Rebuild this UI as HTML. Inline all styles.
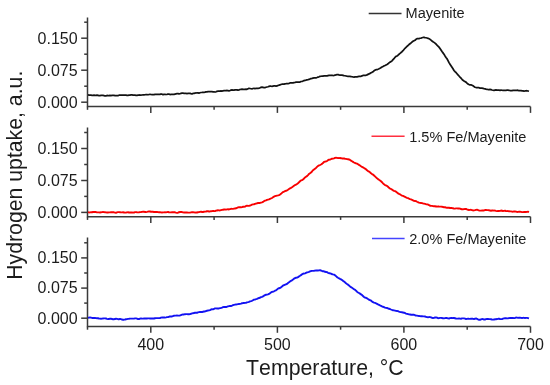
<!DOCTYPE html>
<html><head><meta charset="utf-8"><title>Hydrogen uptake vs temperature</title>
<style>
html,body{margin:0;padding:0;background:#fff;}
body{width:550px;height:385px;overflow:hidden;}
svg{display:block;font-kerning:none;font-family:"Liberation Sans",Arial,sans-serif;fill:#1c1c1c;}
</style></head><body>
<svg width="550" height="385" viewBox="0 0 550 385">
<rect width="550" height="385" fill="#fff"/>
<path d="M87.5,17.5 V106.6 H530.5" fill="none" stroke="#3a3a3a" stroke-width="1.5"/>
<line x1="81.2" y1="102.2" x2="87.5" y2="102.2" stroke="#3a3a3a" stroke-width="1.5"/>
<text x="77.6" y="107.5" text-anchor="end" font-size="16">0.000</text>
<line x1="81.2" y1="70.2" x2="87.5" y2="70.2" stroke="#3a3a3a" stroke-width="1.5"/>
<text x="77.6" y="75.5" text-anchor="end" font-size="16">0.075</text>
<line x1="81.2" y1="38.2" x2="87.5" y2="38.2" stroke="#3a3a3a" stroke-width="1.5"/>
<text x="77.6" y="43.5" text-anchor="end" font-size="16">0.150</text>
<line x1="84.2" y1="86.2" x2="87.5" y2="86.2" stroke="#3a3a3a" stroke-width="1.5"/>
<line x1="84.2" y1="54.2" x2="87.5" y2="54.2" stroke="#3a3a3a" stroke-width="1.5"/>
<line x1="84.2" y1="22.2" x2="87.5" y2="22.2" stroke="#3a3a3a" stroke-width="1.5"/>
<line x1="87.5" y1="106.6" x2="87.5" y2="109.8" stroke="#3a3a3a" stroke-width="1.5"/>
<line x1="150.8" y1="106.6" x2="150.8" y2="112.9" stroke="#3a3a3a" stroke-width="1.5"/>
<line x1="214.1" y1="106.6" x2="214.1" y2="109.8" stroke="#3a3a3a" stroke-width="1.5"/>
<line x1="277.4" y1="106.6" x2="277.4" y2="112.9" stroke="#3a3a3a" stroke-width="1.5"/>
<line x1="340.6" y1="106.6" x2="340.6" y2="109.8" stroke="#3a3a3a" stroke-width="1.5"/>
<line x1="403.9" y1="106.6" x2="403.9" y2="112.9" stroke="#3a3a3a" stroke-width="1.5"/>
<line x1="467.2" y1="106.6" x2="467.2" y2="109.8" stroke="#3a3a3a" stroke-width="1.5"/>
<line x1="530.5" y1="106.6" x2="530.5" y2="112.9" stroke="#3a3a3a" stroke-width="1.5"/>
<line x1="368.7" y1="13.5" x2="401.5" y2="13.5" stroke="#333" stroke-width="1.4"/>
<text x="405.6" y="18.1" font-size="14.55">Mayenite</text>
<path d="M88.0,94.97 L89.0,95.02 L90.0,95.19 L91.0,95.23 L92.0,95.35 L93.0,95.29 L94.0,95.17 L95.0,95.36 L96.0,95.35 L97.0,95.17 L98.0,95.40 L99.0,95.64 L100.0,95.53 L101.0,95.40 L102.0,95.45 L103.0,95.39 L104.0,95.59 L105.0,95.96 L106.0,95.86 L107.0,95.47 L108.0,95.55 L109.0,95.60 L110.0,95.39 L111.0,95.52 L112.0,95.39 L113.0,95.39 L114.0,95.37 L115.0,95.54 L116.0,95.61 L117.0,95.61 L118.0,95.55 L119.0,95.22 L120.0,95.19 L121.0,95.21 L122.0,95.21 L123.0,95.15 L124.0,95.22 L125.0,95.23 L126.0,95.13 L127.0,95.34 L128.0,95.34 L129.0,95.21 L130.0,95.07 L131.0,94.98 L132.0,94.91 L133.0,95.05 L134.0,95.16 L135.0,95.12 L136.0,95.27 L137.0,95.47 L138.0,95.17 L139.0,94.99 L140.0,95.01 L141.0,95.07 L142.0,95.00 L143.0,94.91 L144.0,94.95 L145.0,94.76 L146.0,94.58 L147.0,94.60 L148.0,94.75 L149.0,94.49 L150.0,94.26 L151.0,94.50 L152.0,94.67 L153.0,94.73 L154.0,94.55 L155.0,94.32 L156.0,94.26 L157.0,94.40 L158.0,94.39 L159.0,94.41 L160.0,94.35 L161.0,94.00 L162.0,94.20 L163.0,94.62 L164.0,94.39 L165.0,94.30 L166.0,94.51 L167.0,94.33 L168.0,94.03 L169.0,94.20 L170.0,94.54 L171.0,94.46 L172.0,94.44 L173.0,94.36 L174.0,94.34 L175.0,94.09 L176.0,93.88 L177.0,93.70 L178.0,93.69 L179.0,93.92 L180.0,93.74 L181.0,93.30 L182.0,93.07 L183.0,93.17 L184.0,93.27 L185.0,93.30 L186.0,93.39 L187.0,93.53 L188.0,93.45 L189.0,93.43 L190.0,93.32 L191.0,93.64 L192.0,93.90 L193.0,93.47 L194.0,93.29 L195.0,93.06 L196.0,92.99 L197.0,92.79 L198.0,92.80 L199.0,93.05 L200.0,92.75 L201.0,92.50 L202.0,92.48 L203.0,92.40 L204.0,92.42 L205.0,92.20 L206.0,91.87 L207.0,91.77 L208.0,91.66 L209.0,91.62 L210.0,91.54 L211.0,91.56 L212.0,91.67 L213.0,91.77 L214.0,91.82 L215.0,92.01 L216.0,91.79 L217.0,91.31 L218.0,91.18 L219.0,91.23 L220.0,91.09 L221.0,90.95 L222.0,91.05 L223.0,90.77 L224.0,90.66 L225.0,90.62 L226.0,90.52 L227.0,90.45 L228.0,90.72 L229.0,90.89 L230.0,90.54 L231.0,90.10 L232.0,89.95 L233.0,90.05 L234.0,90.05 L235.0,89.84 L236.0,89.80 L237.0,89.87 L238.0,90.19 L239.0,89.92 L240.0,89.50 L241.0,89.30 L242.0,89.20 L243.0,89.39 L244.0,89.40 L245.0,89.27 L246.0,89.22 L247.0,89.27 L248.0,88.78 L249.0,88.34 L250.0,88.51 L251.0,88.75 L252.0,88.79 L253.0,88.50 L254.0,88.37 L255.0,88.52 L256.0,88.46 L257.0,88.39 L258.0,88.29 L259.0,88.07 L260.0,87.80 L261.0,87.35 L262.0,87.11 L263.0,87.30 L264.0,87.54 L265.0,87.54 L266.0,87.26 L267.0,86.98 L268.0,86.75 L269.0,86.42 L270.0,86.13 L271.0,86.24 L272.0,86.28 L273.0,86.10 L274.0,85.98 L275.0,85.98 L276.0,86.08 L277.0,85.93 L278.0,85.42 L279.0,85.13 L280.0,84.80 L281.0,84.47 L282.0,84.24 L283.0,84.18 L284.0,84.20 L285.0,83.91 L286.0,83.74 L287.0,83.60 L288.0,83.60 L289.0,83.31 L290.0,82.98 L291.0,82.87 L292.0,82.88 L293.0,82.83 L294.0,82.64 L295.0,82.50 L296.0,82.16 L297.0,82.04 L298.0,82.07 L299.0,82.20 L300.0,82.03 L301.0,81.50 L302.0,81.35 L303.0,81.06 L304.0,80.57 L305.0,80.33 L306.0,80.13 L307.0,79.76 L308.0,79.63 L309.0,79.42 L310.0,78.96 L311.0,78.68 L312.0,78.40 L313.0,78.09 L314.0,77.93 L315.0,77.93 L316.0,77.87 L317.0,77.53 L318.0,77.04 L319.0,76.78 L320.0,76.44 L321.0,76.25 L322.0,76.16 L323.0,76.08 L324.0,75.98 L325.0,75.86 L326.0,75.81 L327.0,75.89 L328.0,75.61 L329.0,75.37 L330.0,75.48 L331.0,75.44 L332.0,75.25 L333.0,75.52 L334.0,75.45 L335.0,75.21 L336.0,74.87 L337.0,74.69 L338.0,74.61 L339.0,74.93 L340.0,75.20 L341.0,75.05 L342.0,75.08 L343.0,75.33 L344.0,75.61 L345.0,75.75 L346.0,75.98 L347.0,76.21 L348.0,76.40 L349.0,76.37 L350.0,76.44 L351.0,76.58 L352.0,76.75 L353.0,76.95 L354.0,77.04 L355.0,76.84 L356.0,76.80 L357.0,76.81 L358.0,76.60 L359.0,76.47 L360.0,76.45 L361.0,76.32 L362.0,75.86 L363.0,75.45 L364.0,75.31 L365.0,75.32 L366.0,75.28 L367.0,74.89 L368.0,74.37 L369.0,73.91 L370.0,73.40 L371.0,72.80 L372.0,72.35 L373.0,71.80 L374.0,70.83 L375.0,70.15 L376.0,69.72 L377.0,69.59 L378.0,69.24 L379.0,68.77 L380.0,68.24 L381.0,67.62 L382.0,67.09 L383.0,66.58 L384.0,65.89 L385.0,65.53 L386.0,64.93 L387.0,64.47 L388.0,63.85 L389.0,62.90 L390.0,62.07 L391.0,61.66 L392.0,60.86 L393.0,59.67 L394.0,58.65 L395.0,57.28 L396.0,56.39 L397.0,55.98 L398.0,55.22 L399.0,54.26 L400.0,53.44 L401.0,52.52 L402.0,51.71 L403.0,50.70 L404.0,49.46 L405.0,48.28 L406.0,47.37 L407.0,46.43 L408.0,45.50 L409.0,44.51 L410.0,43.72 L411.0,42.94 L412.0,42.06 L413.0,41.32 L414.0,40.74 L415.0,40.25 L416.0,39.30 L417.0,38.74 L418.0,38.65 L419.0,38.58 L420.0,38.26 L421.0,38.06 L422.0,37.77 L423.0,37.48 L424.0,37.35 L425.0,37.60 L426.0,37.76 L427.0,38.02 L428.0,38.32 L429.0,38.81 L430.0,39.34 L431.0,40.15 L432.0,40.97 L433.0,41.72 L434.0,42.40 L435.0,43.12 L436.0,44.01 L437.0,45.11 L438.0,46.16 L439.0,47.12 L440.0,48.49 L441.0,50.05 L442.0,51.54 L443.0,52.89 L444.0,54.23 L445.0,55.92 L446.0,57.42 L447.0,58.75 L448.0,60.58 L449.0,62.63 L450.0,64.18 L451.0,65.72 L452.0,67.24 L453.0,68.83 L454.0,70.46 L455.0,71.67 L456.0,72.53 L457.0,73.75 L458.0,74.93 L459.0,76.03 L460.0,77.11 L461.0,78.09 L462.0,79.26 L463.0,80.27 L464.0,80.98 L465.0,81.63 L466.0,82.10 L467.0,83.11 L468.0,84.07 L469.0,84.58 L470.0,84.78 L471.0,84.93 L472.0,85.29 L473.0,85.79 L474.0,86.57 L475.0,87.27 L476.0,87.52 L477.0,87.55 L478.0,87.59 L479.0,87.70 L480.0,88.07 L481.0,88.18 L482.0,88.20 L483.0,88.38 L484.0,88.65 L485.0,88.85 L486.0,89.12 L487.0,89.32 L488.0,89.51 L489.0,89.56 L490.0,89.47 L491.0,89.59 L492.0,90.00 L493.0,90.23 L494.0,90.44 L495.0,90.16 L496.0,89.92 L497.0,90.01 L498.0,90.04 L499.0,90.14 L500.0,90.29 L501.0,90.08 L502.0,90.24 L503.0,90.45 L504.0,90.42 L505.0,90.26 L506.0,90.29 L507.0,90.21 L508.0,90.24 L509.0,90.31 L510.0,90.51 L511.0,90.58 L512.0,90.58 L513.0,90.41 L514.0,90.33 L515.0,90.47 L516.0,90.42 L517.0,90.24 L518.0,90.39 L519.0,90.71 L520.0,90.64 L521.0,90.51 L522.0,90.85 L523.0,90.95 L524.0,91.14 L525.0,90.96 L526.0,90.73 L527.0,90.78 L528.0,91.00 L529.0,91.28" fill="none" stroke="#111" stroke-width="1.75" stroke-linejoin="round"/>
<path d="M87.5,127.6 V216.7 H530.5" fill="none" stroke="#3a3a3a" stroke-width="1.5"/>
<line x1="81.2" y1="212.4" x2="87.5" y2="212.4" stroke="#3a3a3a" stroke-width="1.5"/>
<text x="77.6" y="217.7" text-anchor="end" font-size="16">0.000</text>
<line x1="81.2" y1="180.5" x2="87.5" y2="180.5" stroke="#3a3a3a" stroke-width="1.5"/>
<text x="77.6" y="185.8" text-anchor="end" font-size="16">0.075</text>
<line x1="81.2" y1="148.5" x2="87.5" y2="148.5" stroke="#3a3a3a" stroke-width="1.5"/>
<text x="77.6" y="153.8" text-anchor="end" font-size="16">0.150</text>
<line x1="84.2" y1="196.4" x2="87.5" y2="196.4" stroke="#3a3a3a" stroke-width="1.5"/>
<line x1="84.2" y1="164.5" x2="87.5" y2="164.5" stroke="#3a3a3a" stroke-width="1.5"/>
<line x1="84.2" y1="132.5" x2="87.5" y2="132.5" stroke="#3a3a3a" stroke-width="1.5"/>
<line x1="87.5" y1="216.7" x2="87.5" y2="219.9" stroke="#3a3a3a" stroke-width="1.5"/>
<line x1="150.8" y1="216.7" x2="150.8" y2="223.0" stroke="#3a3a3a" stroke-width="1.5"/>
<line x1="214.1" y1="216.7" x2="214.1" y2="219.9" stroke="#3a3a3a" stroke-width="1.5"/>
<line x1="277.4" y1="216.7" x2="277.4" y2="223.0" stroke="#3a3a3a" stroke-width="1.5"/>
<line x1="340.6" y1="216.7" x2="340.6" y2="219.9" stroke="#3a3a3a" stroke-width="1.5"/>
<line x1="403.9" y1="216.7" x2="403.9" y2="223.0" stroke="#3a3a3a" stroke-width="1.5"/>
<line x1="467.2" y1="216.7" x2="467.2" y2="219.9" stroke="#3a3a3a" stroke-width="1.5"/>
<line x1="530.5" y1="216.7" x2="530.5" y2="223.0" stroke="#3a3a3a" stroke-width="1.5"/>
<line x1="371.5" y1="136.3" x2="404.6" y2="136.3" stroke="#ff3040" stroke-width="1.4"/>
<text x="409.2" y="141.5" font-size="14.55">1.5% Fe/Mayenite</text>
<path d="M88.0,212.27 L89.0,212.43 L90.0,212.36 L91.0,212.29 L92.0,212.23 L93.0,211.99 L94.0,211.97 L95.0,211.92 L96.0,212.05 L97.0,212.40 L98.0,212.37 L99.0,212.33 L100.0,212.44 L101.0,212.31 L102.0,212.10 L103.0,212.07 L104.0,212.14 L105.0,212.24 L106.0,212.33 L107.0,212.48 L108.0,212.43 L109.0,212.40 L110.0,212.40 L111.0,212.24 L112.0,212.26 L113.0,212.32 L114.0,212.32 L115.0,212.56 L116.0,212.76 L117.0,212.42 L118.0,212.12 L119.0,212.08 L120.0,212.18 L121.0,212.37 L122.0,212.34 L123.0,212.26 L124.0,212.47 L125.0,212.67 L126.0,212.53 L127.0,212.34 L128.0,212.29 L129.0,212.46 L130.0,212.54 L131.0,212.38 L132.0,212.43 L133.0,212.66 L134.0,212.57 L135.0,212.14 L136.0,212.08 L137.0,212.24 L138.0,212.35 L139.0,212.30 L140.0,212.13 L141.0,212.00 L142.0,211.83 L143.0,211.63 L144.0,211.71 L145.0,212.04 L146.0,212.07 L147.0,211.92 L148.0,211.69 L149.0,211.47 L150.0,211.48 L151.0,211.76 L152.0,211.66 L153.0,211.74 L154.0,212.04 L155.0,211.94 L156.0,211.83 L157.0,211.96 L158.0,212.18 L159.0,212.29 L160.0,212.19 L161.0,212.33 L162.0,212.46 L163.0,212.36 L164.0,212.35 L165.0,212.31 L166.0,212.35 L167.0,212.12 L168.0,212.02 L169.0,212.27 L170.0,212.38 L171.0,212.34 L172.0,212.21 L173.0,212.19 L174.0,212.18 L175.0,212.29 L176.0,212.61 L177.0,212.85 L178.0,212.69 L179.0,212.21 L180.0,212.06 L181.0,211.95 L182.0,212.03 L183.0,212.40 L184.0,212.53 L185.0,212.54 L186.0,212.41 L187.0,212.47 L188.0,212.59 L189.0,212.59 L190.0,212.67 L191.0,212.44 L192.0,212.19 L193.0,212.17 L194.0,212.38 L195.0,212.43 L196.0,212.57 L197.0,212.49 L198.0,212.23 L199.0,212.17 L200.0,211.86 L201.0,211.65 L202.0,211.99 L203.0,211.95 L204.0,211.74 L205.0,211.67 L206.0,211.51 L207.0,211.27 L208.0,211.29 L209.0,211.45 L210.0,211.43 L211.0,211.25 L212.0,211.09 L213.0,210.87 L214.0,211.05 L215.0,211.12 L216.0,210.67 L217.0,210.47 L218.0,210.30 L219.0,210.33 L220.0,210.43 L221.0,210.16 L222.0,209.87 L223.0,209.71 L224.0,209.53 L225.0,209.39 L226.0,209.57 L227.0,209.34 L228.0,209.26 L229.0,209.45 L230.0,209.13 L231.0,208.81 L232.0,208.92 L233.0,208.85 L234.0,208.64 L235.0,208.44 L236.0,208.31 L237.0,207.82 L238.0,207.44 L239.0,207.20 L240.0,207.30 L241.0,207.31 L242.0,207.05 L243.0,206.78 L244.0,206.77 L245.0,206.64 L246.0,205.90 L247.0,205.71 L248.0,205.85 L249.0,205.79 L250.0,205.56 L251.0,205.10 L252.0,204.61 L253.0,204.40 L254.0,204.24 L255.0,203.88 L256.0,203.55 L257.0,203.34 L258.0,202.99 L259.0,202.99 L260.0,202.96 L261.0,202.61 L262.0,202.37 L263.0,201.98 L264.0,201.12 L265.0,200.71 L266.0,200.39 L267.0,199.87 L268.0,199.62 L269.0,199.39 L270.0,198.87 L271.0,198.47 L272.0,198.00 L273.0,197.30 L274.0,196.61 L275.0,196.21 L276.0,195.83 L277.0,195.58 L278.0,195.42 L279.0,195.04 L280.0,194.60 L281.0,193.85 L282.0,192.87 L283.0,192.03 L284.0,191.57 L285.0,191.07 L286.0,190.77 L287.0,190.30 L288.0,189.74 L289.0,189.04 L290.0,188.42 L291.0,187.92 L292.0,187.29 L293.0,186.57 L294.0,185.69 L295.0,185.02 L296.0,184.66 L297.0,184.01 L298.0,183.18 L299.0,182.27 L300.0,181.26 L301.0,180.43 L302.0,180.15 L303.0,179.53 L304.0,178.55 L305.0,177.45 L306.0,176.76 L307.0,176.10 L308.0,175.11 L309.0,173.98 L310.0,173.25 L311.0,172.47 L312.0,171.46 L313.0,170.24 L314.0,169.44 L315.0,168.68 L316.0,167.90 L317.0,166.87 L318.0,165.99 L319.0,165.43 L320.0,165.01 L321.0,164.50 L322.0,163.87 L323.0,162.95 L324.0,161.99 L325.0,161.58 L326.0,161.54 L327.0,160.95 L328.0,160.20 L329.0,159.68 L330.0,159.58 L331.0,159.18 L332.0,158.74 L333.0,158.65 L334.0,158.31 L335.0,157.87 L336.0,157.78 L337.0,157.84 L338.0,158.06 L339.0,158.10 L340.0,158.05 L341.0,158.20 L342.0,158.45 L343.0,158.45 L344.0,158.46 L345.0,158.75 L346.0,158.90 L347.0,159.10 L348.0,159.30 L349.0,159.49 L350.0,159.93 L351.0,160.64 L352.0,161.25 L353.0,161.86 L354.0,162.49 L355.0,163.04 L356.0,163.31 L357.0,163.60 L358.0,164.20 L359.0,164.89 L360.0,165.54 L361.0,166.27 L362.0,166.93 L363.0,167.41 L364.0,168.01 L365.0,168.63 L366.0,169.23 L367.0,170.27 L368.0,171.08 L369.0,171.53 L370.0,172.28 L371.0,173.34 L372.0,174.07 L373.0,174.55 L374.0,175.48 L375.0,176.43 L376.0,177.39 L377.0,178.31 L378.0,179.12 L379.0,179.80 L380.0,180.44 L381.0,181.25 L382.0,182.21 L383.0,183.33 L384.0,184.29 L385.0,185.04 L386.0,185.51 L387.0,185.89 L388.0,186.77 L389.0,187.81 L390.0,188.59 L391.0,188.99 L392.0,189.55 L393.0,190.40 L394.0,190.91 L395.0,191.20 L396.0,191.68 L397.0,192.46 L398.0,193.36 L399.0,193.94 L400.0,194.32 L401.0,194.99 L402.0,195.61 L403.0,195.95 L404.0,196.42 L405.0,196.87 L406.0,197.38 L407.0,197.84 L408.0,198.14 L409.0,198.63 L410.0,199.06 L411.0,199.34 L412.0,199.77 L413.0,200.31 L414.0,200.83 L415.0,200.98 L416.0,201.15 L417.0,201.74 L418.0,202.24 L419.0,202.62 L420.0,202.91 L421.0,203.03 L422.0,203.15 L423.0,203.47 L424.0,203.66 L425.0,203.90 L426.0,204.20 L427.0,204.36 L428.0,204.50 L429.0,205.05 L430.0,205.69 L431.0,205.79 L432.0,205.85 L433.0,206.08 L434.0,206.27 L435.0,206.30 L436.0,206.53 L437.0,206.57 L438.0,206.46 L439.0,206.54 L440.0,206.59 L441.0,206.65 L442.0,206.72 L443.0,207.06 L444.0,207.21 L445.0,207.27 L446.0,207.54 L447.0,207.75 L448.0,207.71 L449.0,207.77 L450.0,207.99 L451.0,207.96 L452.0,208.06 L453.0,208.27 L454.0,208.60 L455.0,208.58 L456.0,208.39 L457.0,208.40 L458.0,208.48 L459.0,208.44 L460.0,208.65 L461.0,209.00 L462.0,209.42 L463.0,209.26 L464.0,209.10 L465.0,208.98 L466.0,209.00 L467.0,209.41 L468.0,209.78 L469.0,209.95 L470.0,209.89 L471.0,209.78 L472.0,210.13 L473.0,210.47 L474.0,210.40 L475.0,210.17 L476.0,209.83 L477.0,209.71 L478.0,210.05 L479.0,210.46 L480.0,210.58 L481.0,210.63 L482.0,210.57 L483.0,210.55 L484.0,210.44 L485.0,210.06 L486.0,209.98 L487.0,210.11 L488.0,210.08 L489.0,210.26 L490.0,210.56 L491.0,210.71 L492.0,210.54 L493.0,210.56 L494.0,210.60 L495.0,210.54 L496.0,210.84 L497.0,211.11 L498.0,210.92 L499.0,210.96 L500.0,210.86 L501.0,210.55 L502.0,210.72 L503.0,210.98 L504.0,210.88 L505.0,210.79 L506.0,211.04 L507.0,211.08 L508.0,211.07 L509.0,211.21 L510.0,211.34 L511.0,211.42 L512.0,211.62 L513.0,211.68 L514.0,211.51 L515.0,211.45 L516.0,211.59 L517.0,211.94 L518.0,211.85 L519.0,211.76 L520.0,211.78 L521.0,211.92 L522.0,212.11 L523.0,212.15 L524.0,212.06 L525.0,211.97 L526.0,211.97 L527.0,211.91 L528.0,211.71 L529.0,212.05" fill="none" stroke="#f80000" stroke-width="1.9" stroke-linejoin="round"/>
<path d="M87.5,237.5 V326.5 H530.5" fill="none" stroke="#3a3a3a" stroke-width="1.5"/>
<line x1="81.2" y1="318.2" x2="87.5" y2="318.2" stroke="#3a3a3a" stroke-width="1.5"/>
<text x="77.6" y="323.5" text-anchor="end" font-size="16">0.000</text>
<line x1="81.2" y1="288.1" x2="87.5" y2="288.1" stroke="#3a3a3a" stroke-width="1.5"/>
<text x="77.6" y="293.4" text-anchor="end" font-size="16">0.075</text>
<line x1="81.2" y1="257.9" x2="87.5" y2="257.9" stroke="#3a3a3a" stroke-width="1.5"/>
<text x="77.6" y="263.2" text-anchor="end" font-size="16">0.150</text>
<line x1="84.2" y1="303.1" x2="87.5" y2="303.1" stroke="#3a3a3a" stroke-width="1.5"/>
<line x1="84.2" y1="273.0" x2="87.5" y2="273.0" stroke="#3a3a3a" stroke-width="1.5"/>
<line x1="84.2" y1="242.8" x2="87.5" y2="242.8" stroke="#3a3a3a" stroke-width="1.5"/>
<line x1="87.5" y1="326.5" x2="87.5" y2="329.7" stroke="#3a3a3a" stroke-width="1.5"/>
<line x1="150.8" y1="326.5" x2="150.8" y2="332.8" stroke="#3a3a3a" stroke-width="1.5"/>
<line x1="214.1" y1="326.5" x2="214.1" y2="329.7" stroke="#3a3a3a" stroke-width="1.5"/>
<line x1="277.4" y1="326.5" x2="277.4" y2="332.8" stroke="#3a3a3a" stroke-width="1.5"/>
<line x1="340.6" y1="326.5" x2="340.6" y2="329.7" stroke="#3a3a3a" stroke-width="1.5"/>
<line x1="403.9" y1="326.5" x2="403.9" y2="332.8" stroke="#3a3a3a" stroke-width="1.5"/>
<line x1="467.2" y1="326.5" x2="467.2" y2="329.7" stroke="#3a3a3a" stroke-width="1.5"/>
<line x1="530.5" y1="326.5" x2="530.5" y2="332.8" stroke="#3a3a3a" stroke-width="1.5"/>
<line x1="372.0" y1="238.5" x2="404.6" y2="238.5" stroke="#4444ff" stroke-width="1.4"/>
<text x="409.2" y="243.7" font-size="14.55">2.0% Fe/Mayenite</text>
<path d="M88.0,317.73 L89.0,317.62 L90.0,317.46 L91.0,317.66 L92.0,317.93 L93.0,318.02 L94.0,318.07 L95.0,317.99 L96.0,318.16 L97.0,318.26 L98.0,318.27 L99.0,318.49 L100.0,318.63 L101.0,318.78 L102.0,318.58 L103.0,318.47 L104.0,318.41 L105.0,318.33 L106.0,318.49 L107.0,318.82 L108.0,319.07 L109.0,319.00 L110.0,318.70 L111.0,318.64 L112.0,319.05 L113.0,319.22 L114.0,319.22 L115.0,318.95 L116.0,318.73 L117.0,318.93 L118.0,319.18 L119.0,319.22 L120.0,318.94 L121.0,319.20 L122.0,319.55 L123.0,319.74 L124.0,319.68 L125.0,319.53 L126.0,319.25 L127.0,319.08 L128.0,318.93 L129.0,318.80 L130.0,318.63 L131.0,318.61 L132.0,318.66 L133.0,318.62 L134.0,318.64 L135.0,318.42 L136.0,318.34 L137.0,318.60 L138.0,319.05 L139.0,319.13 L140.0,318.62 L141.0,318.35 L142.0,318.58 L143.0,318.62 L144.0,318.54 L145.0,318.48 L146.0,318.54 L147.0,318.44 L148.0,318.38 L149.0,318.35 L150.0,318.46 L151.0,318.47 L152.0,318.36 L153.0,318.47 L154.0,318.52 L155.0,318.23 L156.0,318.15 L157.0,318.08 L158.0,318.09 L159.0,318.16 L160.0,317.98 L161.0,317.64 L162.0,317.55 L163.0,317.57 L164.0,317.54 L165.0,317.57 L166.0,317.37 L167.0,317.09 L168.0,316.99 L169.0,316.75 L170.0,316.45 L171.0,316.52 L172.0,316.48 L173.0,316.06 L174.0,315.68 L175.0,315.65 L176.0,315.64 L177.0,315.50 L178.0,315.59 L179.0,315.67 L180.0,315.47 L181.0,315.05 L182.0,314.68 L183.0,314.54 L184.0,314.44 L185.0,314.20 L186.0,314.09 L187.0,314.15 L188.0,314.30 L189.0,314.25 L190.0,314.11 L191.0,313.77 L192.0,313.40 L193.0,313.28 L194.0,312.96 L195.0,312.74 L196.0,312.78 L197.0,312.75 L198.0,312.33 L199.0,312.09 L200.0,311.94 L201.0,312.05 L202.0,312.05 L203.0,311.73 L204.0,311.51 L205.0,311.47 L206.0,311.03 L207.0,310.78 L208.0,310.43 L209.0,310.39 L210.0,310.12 L211.0,309.53 L212.0,309.28 L213.0,309.38 L214.0,308.96 L215.0,308.37 L216.0,308.35 L217.0,308.43 L218.0,308.44 L219.0,308.44 L220.0,308.17 L221.0,307.95 L222.0,307.56 L223.0,307.12 L224.0,306.92 L225.0,306.97 L226.0,306.98 L227.0,306.73 L228.0,306.37 L229.0,306.19 L230.0,305.99 L231.0,306.01 L232.0,305.67 L233.0,305.23 L234.0,304.87 L235.0,304.68 L236.0,304.48 L237.0,304.37 L238.0,304.19 L239.0,303.99 L240.0,303.89 L241.0,303.61 L242.0,303.27 L243.0,303.06 L244.0,302.96 L245.0,302.88 L246.0,302.74 L247.0,302.41 L248.0,302.19 L249.0,301.82 L250.0,301.39 L251.0,301.13 L252.0,300.79 L253.0,300.19 L254.0,299.61 L255.0,299.48 L256.0,299.18 L257.0,298.80 L258.0,298.34 L259.0,298.03 L260.0,297.78 L261.0,297.17 L262.0,296.87 L263.0,296.40 L264.0,295.64 L265.0,295.11 L266.0,294.74 L267.0,294.63 L268.0,294.41 L269.0,293.96 L270.0,293.16 L271.0,292.41 L272.0,291.92 L273.0,291.75 L274.0,291.28 L275.0,290.73 L276.0,290.30 L277.0,289.52 L278.0,288.63 L279.0,288.22 L280.0,287.97 L281.0,287.40 L282.0,286.55 L283.0,285.54 L284.0,285.06 L285.0,284.73 L286.0,284.30 L287.0,283.89 L288.0,283.09 L289.0,282.33 L290.0,281.48 L291.0,280.80 L292.0,280.29 L293.0,279.49 L294.0,278.65 L295.0,278.13 L296.0,277.76 L297.0,277.67 L298.0,277.11 L299.0,276.40 L300.0,275.79 L301.0,275.14 L302.0,274.36 L303.0,273.73 L304.0,273.56 L305.0,273.32 L306.0,272.84 L307.0,272.41 L308.0,272.21 L309.0,271.91 L310.0,271.45 L311.0,271.05 L312.0,270.88 L313.0,270.88 L314.0,270.77 L315.0,270.60 L316.0,270.46 L317.0,270.55 L318.0,270.54 L319.0,270.42 L320.0,270.25 L321.0,270.48 L322.0,270.97 L323.0,271.22 L324.0,271.32 L325.0,271.80 L326.0,271.95 L327.0,272.16 L328.0,272.79 L329.0,273.20 L330.0,273.30 L331.0,273.65 L332.0,274.21 L333.0,274.41 L334.0,274.58 L335.0,275.21 L336.0,276.18 L337.0,277.15 L338.0,277.77 L339.0,278.29 L340.0,278.86 L341.0,279.35 L342.0,280.03 L343.0,280.85 L344.0,281.48 L345.0,282.33 L346.0,283.31 L347.0,284.03 L348.0,284.66 L349.0,285.45 L350.0,286.42 L351.0,287.13 L352.0,287.79 L353.0,288.43 L354.0,289.15 L355.0,289.84 L356.0,290.66 L357.0,291.69 L358.0,292.49 L359.0,292.99 L360.0,293.66 L361.0,294.35 L362.0,295.04 L363.0,296.05 L364.0,297.01 L365.0,297.56 L366.0,297.79 L367.0,298.29 L368.0,299.07 L369.0,299.74 L370.0,300.04 L371.0,300.53 L372.0,301.44 L373.0,302.24 L374.0,302.69 L375.0,302.90 L376.0,303.28 L377.0,303.86 L378.0,304.43 L379.0,304.91 L380.0,305.40 L381.0,305.79 L382.0,306.32 L383.0,306.78 L384.0,307.09 L385.0,307.62 L386.0,307.90 L387.0,307.99 L388.0,308.36 L389.0,308.80 L390.0,309.02 L391.0,309.50 L392.0,309.95 L393.0,310.32 L394.0,310.38 L395.0,310.56 L396.0,310.84 L397.0,310.94 L398.0,311.10 L399.0,311.54 L400.0,311.94 L401.0,312.10 L402.0,312.24 L403.0,312.55 L404.0,312.71 L405.0,313.01 L406.0,313.55 L407.0,313.89 L408.0,314.06 L409.0,314.32 L410.0,314.44 L411.0,314.73 L412.0,314.79 L413.0,314.67 L414.0,314.75 L415.0,315.22 L416.0,315.52 L417.0,315.68 L418.0,315.87 L419.0,315.98 L420.0,316.08 L421.0,316.23 L422.0,316.22 L423.0,316.39 L424.0,316.35 L425.0,316.50 L426.0,316.81 L427.0,317.15 L428.0,317.29 L429.0,317.12 L430.0,317.07 L431.0,317.39 L432.0,317.75 L433.0,318.00 L434.0,317.82 L435.0,317.49 L436.0,317.37 L437.0,317.67 L438.0,318.19 L439.0,318.11 L440.0,317.85 L441.0,317.83 L442.0,317.99 L443.0,318.29 L444.0,318.40 L445.0,318.17 L446.0,318.00 L447.0,318.05 L448.0,318.42 L449.0,318.49 L450.0,318.10 L451.0,318.05 L452.0,318.07 L453.0,317.94 L454.0,318.04 L455.0,318.27 L456.0,318.49 L457.0,318.66 L458.0,318.61 L459.0,318.45 L460.0,318.57 L461.0,318.73 L462.0,318.39 L463.0,318.33 L464.0,318.39 L465.0,318.66 L466.0,318.99 L467.0,318.83 L468.0,318.62 L469.0,318.79 L470.0,318.88 L471.0,318.72 L472.0,318.77 L473.0,318.82 L474.0,318.96 L475.0,318.81 L476.0,318.45 L477.0,318.86 L478.0,319.38 L479.0,319.75 L480.0,319.75 L481.0,319.38 L482.0,319.02 L483.0,319.17 L484.0,319.51 L485.0,319.50 L486.0,319.15 L487.0,319.03 L488.0,319.03 L489.0,319.14 L490.0,319.17 L491.0,319.26 L492.0,319.50 L493.0,319.63 L494.0,319.57 L495.0,319.27 L496.0,319.20 L497.0,319.05 L498.0,318.81 L499.0,318.79 L500.0,319.01 L501.0,319.15 L502.0,319.08 L503.0,318.65 L504.0,318.34 L505.0,318.21 L506.0,318.27 L507.0,318.38 L508.0,318.28 L509.0,318.12 L510.0,317.96 L511.0,317.95 L512.0,318.02 L513.0,318.02 L514.0,318.13 L515.0,317.98 L516.0,317.57 L517.0,317.61 L518.0,317.87 L519.0,317.68 L520.0,317.64 L521.0,317.85 L522.0,318.00 L523.0,317.82 L524.0,317.91 L525.0,318.01 L526.0,317.85 L527.0,317.91 L528.0,318.14 L529.0,318.44" fill="none" stroke="#1212f2" stroke-width="1.9" stroke-linejoin="round"/>
<text x="150.8" y="349.7" text-anchor="middle" font-size="16">400</text>
<text x="277.4" y="349.7" text-anchor="middle" font-size="16">500</text>
<text x="403.9" y="349.7" text-anchor="middle" font-size="16">600</text>
<text x="530.5" y="349.7" text-anchor="middle" font-size="16">700</text>
<text x="324.9" y="374.7" text-anchor="middle" font-size="21.3">Temperature, °C</text>
<text transform="translate(21.8,175.25) rotate(-90)" text-anchor="middle" font-size="21.25">Hydrogen uptake, a.u.</text>
</svg>
</body></html>
